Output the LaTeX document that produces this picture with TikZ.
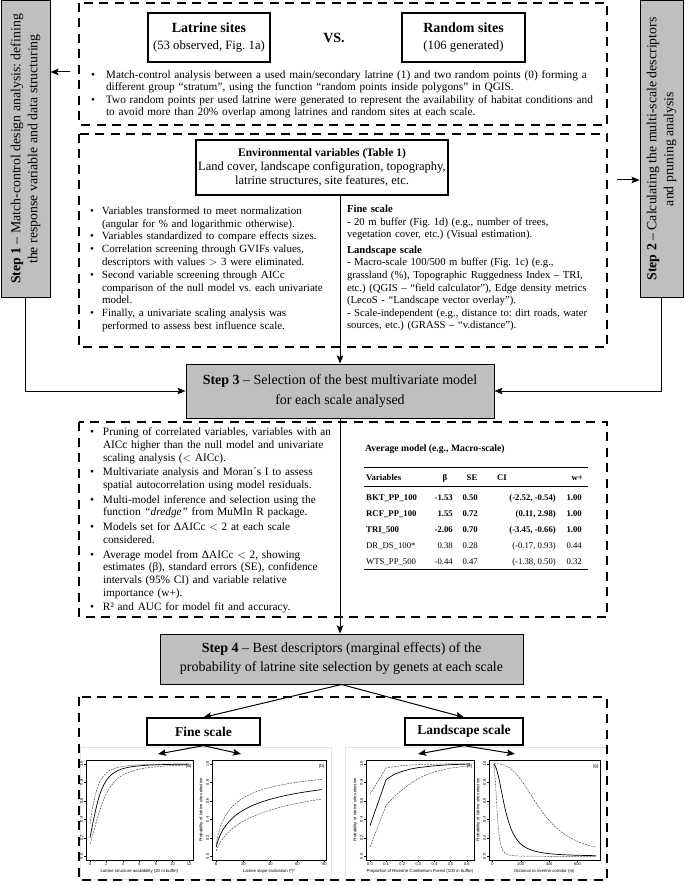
\documentclass[tikz,border=0pt]{standalone}
\usepackage{fontspec}
\setmainfont{Liberation Serif}
\newfontfamily\plotfont{Liberation Sans}
\usetikzlibrary{arrows.meta}
\frenchspacing
\definecolor{stepgray}{RGB}{191,191,191}
\definecolor{panelgray}{RGB}{228,228,228}
\newlength{\bulind}
\newcommand{\bitem}{\par\noindent\hangindent=\bulind\hangafter=1\makebox[\bulind][l]{\textbullet}}
\newcommand{\trow}[8]{%
  \node[tcell,#8,anchor=base west] (#1v) at (366,#2) {#3};
  \node[tcell,#8,anchor=base east] (#1b) at (453,#2) {#4};
  \node[tcell,#8,anchor=base east] (#1s) at (478,#2) {#5};
  \node[tcell,#8,anchor=base east] (#1c) at (556,#2) {#6};
  \node[tcell,#8,anchor=base east] (#1w) at (582,#2) {#7};}
% plot frame: #1 id, #2 xmin, #3 xmax, #4 xticks, #5 panel label
\newcommand{\pframe}[5]{%
  \draw[pbox] (#2,-0.04) rectangle (#3,1.04);
  \foreach \t/\l in {0/0.0,0.2/0.2,0.4/0.4,0.6/0.6,0.8/0.8,1/1.0}{
    \draw[ptk] (#2,\t) -- ++(-2.2pt,0);
    \node[ptick,rotate=90,anchor=south] at ([xshift=-2.8pt]#2,\t) {\l};}
  \foreach \t/\l in {#4}{
    \draw[ptk] (\t,-0.04) -- ++(0,-2.2pt);
    \node[ptick,anchor=north] at ([yshift=-2.8pt]\t,-0.04) {\l};}
  \node[plab,anchor=north east] (#1lab) at ([xshift=-1.5pt,yshift=-4pt]#3,1.04) {#5};}
\begin{document}
\begin{tikzpicture}[x=1pt,y=-1pt,
  dbox/.style={draw,line width=2pt,dash pattern=on 9pt off 6.5pt},
  sbox/.style={draw,line width=1.3pt,fill=white,inner sep=1pt,align=center},
  gbox/.style={draw,line width=1pt,fill=stepgray},
  arr/.style={line width=1pt,-{Stealth[length=8pt,width=6.5pt,inset=1.5pt]}},
  txt/.style={inner sep=0,outer sep=0,align=left},
  tcell/.style={inner sep=0},
  tb/.style={font=\bfseries\fontsize{8.7}{10}\selectfont},
  tn/.style={font=\fontsize{8.7}{10}\selectfont},
  pbox/.style={line width=0.45pt},
  ptk/.style={line width=0.35pt},
  ptick/.style={inner sep=0,font=\plotfont\fontsize{4}{4.5}\selectfont},
  plab/.style={inner sep=0,font=\plotfont\fontsize{4.5}{5}\selectfont},
  paxl/.style={inner sep=0,font=\plotfont\fontsize{4.3}{5}\selectfont},
  psol/.style={line width=0.7pt},
  pdsh/.style={line width=0.45pt,black!75,dash pattern=on 2pt off 1pt}
]
\useasboundingbox (0,0) rectangle (685,885);

% ---------------- Step bars
\node[gbox,minimum width=49pt,minimum height=296pt] (s1) at (25.5,149) {};
\node[rotate=90,align=center,inner sep=0,font=\fontsize{13.8}{17}\selectfont] (s1t) at (s1.center) {\textbf{Step 1} -- Match-control design analysis: defining\\the response variable and data structuring};
\node[gbox,minimum width=43pt,minimum height=296pt] (s2) at (661.5,149) {};
\node[rotate=90,align=center,inner sep=0,font=\fontsize{13.8}{17}\selectfont] (s2t) at (s2.center) {\textbf{Step 2} -- Calculating the multi-scale descriptors\\and pruning analysis};

% ---------------- Top box
\draw[dbox] (79,3) rectangle (607,125);
\node[sbox,minimum width=122pt,minimum height=49pt,font=\fontsize{12.7}{17}\selectfont] (lat) at (209,37.5) {{\fontsize{14}{17}\selectfont\textbf{Latrine sites}}\\(53 observed, Fig.~1a)};
\node[inner sep=0,font=\bfseries\fontsize{14}{16}\selectfont] (vs) at (334,38) {VS.};
\node[sbox,minimum width=123pt,minimum height=49pt,font=\fontsize{12.7}{17}\selectfont] (rnd) at (463.5,37.5) {{\fontsize{14}{17}\selectfont\textbf{Random sites}}\\(106 generated)};
\node[txt,anchor=north west,text width=515pt,font=\fontsize{11.3}{12.4}\selectfont] (topb) at (91,66) {\setlength{\bulind}{15pt}%
\bitem Match-control analysis between a used main/secondary latrine (1) and two random points (0) forming a\newline different group “stratum”, using the function “random points inside polygons” in QGIS.
\bitem Two random points per used latrine were generated to represent the availability of habitat conditions and\newline to avoid more than 20\% overlap among latrines and random sites at each scale.\par};
\coordinate (ta) at (70,72);
\draw[arr] (ta) -- (ta -| s1.east);

% ---------------- Environmental box
\draw[dbox] (79,134) rectangle (607,347);
\node[sbox,minimum width=252pt,minimum height=55pt,font=\fontsize{12.5}{13.6}\selectfont] (env) at (322,167.5) {{\fontsize{11.5}{13.6}\selectfont\textbf{Environmental variables (Table 1)}}\\Land cover, landscape configuration, topography,\\latrine structures, site features, etc.};
\node[txt,anchor=north west,text width=246pt,font=\fontsize{11}{12.8}\selectfont] (envl) at (90,201.5) {\setlength{\bulind}{12pt}%
\bitem Variables transformed to meet normalization\newline (angular for \% and logarithmic otherwise).
\bitem Variables standardized to compare effects sizes.
\bitem Correlation screening through GVIFs values,\newline descriptors with values $>$ 3 were eliminated.
\bitem Second variable screening through AICc\newline comparison of the null model vs. each univariate\newline model.
\bitem Finally, a univariate scaling analysis was\newline performed to assess best influence scale.\par};
\node[txt,anchor=north west,text width=255pt,font=\fontsize{10.7}{12.6}\selectfont] (envr) at (347,205) {\textbf{Fine scale}\newline
- 20 m buffer (Fig. 1d) (e.g., number of trees,\newline vegetation cover, etc.) (Visual estimation).\par\vspace{3pt}
\textbf{Landscape scale}\newline
- Macro-scale 100/500 m buffer (Fig. 1c) (e.g.,\newline grassland (\%), Topographic Ruggedness Index -- TRI,\newline etc.) (QGIS -- “field calculator”), Edge density metrics\newline (LecoS - “Landscape vector overlay”).\newline
- Scale-independent (e.g., distance to: dirt roads, water\newline sources, etc.) (GRASS -- “v.distance”).\par};
\coordinate (tb2) at (617,180);
\draw[arr] (tb2) -- (tb2 -| s2.west);

% ---------------- Step 3
\node[gbox,minimum width=308pt,minimum height=54pt,align=center,font=\fontsize{14}{20.5}\selectfont] (s3) at (340,391) {\textbf{Step 3} -- Selection of the best multivariate model\\for each scale analysed};
\draw[arr] (env.south -| s3.north) -- (s3.north);
\draw[arr] (s1.south) |- (s3.west);
\draw[arr] (s2.south) |- (s3.east);

% ---------------- Model box
\draw[dbox] (79,422) rectangle (607,617);
\node[txt,anchor=north west,text width=262pt,font=\fontsize{11.3}{12.7}\selectfont] (modl) at (90,421) {\setlength{\bulind}{13pt}\setlength{\parskip}{2pt}%
\bitem Pruning of correlated variables, variables with an\newline AICc higher than the null model and univariate\newline scaling analysis ($<$ AICc).
\bitem Multivariate analysis and Moran´s I to assess\newline spatial autocorrelation using model residuals.
\bitem Multi-model inference and selection using the\newline function \textit{“dredge”} from MuMIn R package.
\bitem Models set for ΔAICc $<$ 2 at each scale\newline considered.
\bitem Average model from ΔAICc $<$ 2, showing\newline estimates (β), standard errors (SE), confidence\newline intervals (95\% CI) and variable relative\newline importance (w+).
\bitem R² and AUC for model fit and accuracy.\par};

% table
\node[txt,anchor=base west,font=\bfseries\fontsize{9.7}{11}\selectfont] (ttl) at (365,451) {Average model (e.g., Macro-scale)};
\draw[line width=1pt] (364,467) -- (588,467);
\node[tcell,tb,anchor=base west] (hv) at (366,480) {Variables};
\node[tcell,tb,anchor=base] (hb) at (445,480) {β};
\node[tcell,tb,anchor=base] (hs) at (472,480) {SE};
\node[tcell,tb,anchor=base west] (hc) at (497,480) {CI};
\node[tcell,tb,anchor=base east] (hw) at (583,480) {w+};
\draw[line width=0.5pt] (364,486) -- (588,486);
\trow{ra}{500}{BKT\_PP\_100}{-1.53}{0.50}{(-2.52, -0.54)}{1.00}{tb}
\trow{rb}{516}{RCF\_PP\_100}{1.55}{0.72}{(0.11, 2.98)}{1.00}{tb}
\trow{rc}{532}{TRI\_500}{-2.06}{0.70}{(-3.45, -0.66)}{1.00}{tb}
\trow{rd}{548}{DR\_DS\_100*}{0.38}{0.28}{(-0.17, 0.93)}{0.44}{tn}
\trow{re}{564}{WTS\_PP\_500}{-0.44}{0.47}{(-1.38, 0.50)}{0.32}{tn}
\draw[line width=1pt] (364,569) -- (588,569);

% ---------------- Step 4
\node[gbox,minimum width=363pt,minimum height=50pt,align=center,font=\fontsize{14}{19}\selectfont] (s4) at (341.5,659) {\textbf{Step 4} -- Best descriptors (marginal effects) of the\\probability of latrine site selection by genets at each scale};
\draw[arr] (s3.south) -- (s4.north -| s3.south);

% ---------------- Bottom box
\draw[panelgray,line width=0.6pt] (80,747) rectangle (331,879);
\draw[panelgray,line width=0.6pt] (345,747) rectangle (606,879);
\draw[dbox] (79,697) rectangle (607,880);
\node[sbox,minimum width=113pt,minimum height=27pt,font=\bfseries\fontsize{13.5}{15}\selectfont] (fs) at (203.5,731.5) {Fine scale};
\node[sbox,minimum width=118pt,minimum height=27pt,font=\bfseries\fontsize{13.5}{15}\selectfont] (ls) at (464,731.5) {Landscape scale};
\draw[arr] (s4.south) -- (fs.north);
\draw[arr] (s4.south) -- (ls.north);
\coordinate (fa) at (158,754);
\coordinate (fb) at (241,754);
\coordinate (la) at (418,754);
\coordinate (lb) at (515,754);
\draw[arr] (fs.south) -- (fa);
\draw[arr] (fs.south) -- (fb);
\draw[arr] (ls.south) -- (la);
\draw[arr] (ls.south) -- (lb);

% plot a
\begin{scope}[xshift=89.96pt,yshift=-856.3pt,x={(8.256pt,0pt)},y={(0pt,92.59pt)}]
\pframe{pa}{-0.48}{12.48}{0/0,2/2,4/4,6/6,8/8,10/10,12/12}{(a)}
\node[paxl,anchor=north] (pax) at ([yshift=-9.5pt]6,-0.04) {Latrine structure availability (20 m buffer)};
\draw[pdsh] plot[domain=0:12,samples=70,smooth] (\x,{1/(1+exp(0.62-2.57*ln(\x+1)))});
\draw[psol] plot[domain=0:12,samples=70,smooth] (\x,{1/(1+exp(1.39-2.65*ln(\x+1)))});
\draw[pdsh] plot[domain=0:12,samples=70,smooth] (\x,{1/(1+exp(1.9-2.41*ln(\x+1)))});
\end{scope}
% plot b
\begin{scope}[xshift=216.22pt,yshift=-856.3pt,x={(1.3533pt,0pt)},y={(0pt,92.59pt)}]
\pframe{pb}{-3.12}{81.12}{0/0,20/20,40/40,60/60,80/80}{(b)}
\node[paxl,anchor=north] (pbx) at ([yshift=-9.5pt]39,-0.04) {Latrine slope inclination (º)*};
\node[paxl,rotate=90,anchor=south] (pby) at ([xshift=-8.5pt]-3.12,0.5) {Probability of latrine site selection};
\draw[pdsh] plot[domain=0:78,samples=70,smooth] (\x,{1/(1+exp(1.9-0.8*ln(\x+1)))});
\draw[psol] plot[domain=0:78,samples=70,smooth] (\x,{1/(1+exp(2.2-0.72*ln(\x+1)))});
\draw[pdsh] plot[domain=0:78,samples=70,smooth] (\x,{1/(1+exp(2.75-0.74*ln(\x+1)))});
\end{scope}
% plot c
\begin{scope}[xshift=370pt,yshift=-856.3pt,x={(161.29pt,0pt)},y={(0pt,92.59pt)}]
\pframe{pc}{-0.0248}{0.6448}{0/0.0,0.1/0.1,0.2/0.2,0.3/0.3,0.4/0.4,0.5/0.5,0.6/0.6}{(e)}
\node[paxl,anchor=north] (pcx) at ([yshift=-9.5pt]0.31,-0.04) {Proportion of Riverine Combretum Forest (100 m buffer)};
\node[paxl,rotate=90,anchor=south] (pcy) at ([xshift=-8.5pt]-0.0248,0.5) {Probability of latrine site selection};
\draw[pdsh] (0,0.67) -- (0.1,0.955) -- (0.2,0.98) -- (0.3,0.99) -- (0.45,0.997) -- (0.62,1.0);
\draw[psol] (0,0.33) -- (0.1,0.83) -- (0.15,0.885) -- (0.2,0.918) -- (0.25,0.942) -- (0.3,0.958) -- (0.4,0.978) -- (0.5,0.99) -- (0.62,0.997);
\draw[pdsh] (0,0.1) -- (0.1,0.55) -- (0.15,0.645) -- (0.2,0.72) -- (0.25,0.785) -- (0.3,0.84) -- (0.35,0.88) -- (0.4,0.912) -- (0.5,0.952) -- (0.62,0.98);
\end{scope}
% plot d
\begin{scope}[xshift=492.4pt,yshift=-856.3pt,x={(0.14176pt,0pt)},y={(0pt,92.59pt)}]
\pframe{pd}{-24}{759}{0/0,200/200,400/400,600/600}{(g)}
\node[paxl,anchor=north] (pdx) at ([yshift=-9.5pt]367,-0.04) {Distance to riverine corridor (m)};
\node[paxl,rotate=90,anchor=south] (pdy) at ([xshift=-8.5pt]-24,0.5) {Probability of latrine site selection};
\draw[pdsh] plot[domain=10:730,samples=90,smooth] (\x,{1/(1+exp(min(8,2.93*ln(\x)-17.1)))});
\draw[psol] plot[domain=10:730,samples=90,smooth] (\x,{1/(1+exp(min(8,2.39*ln(\x)-10.8)))});
\draw[pdsh] plot[domain=10:730,samples=120,smooth] (\x,{1/(1+exp(min(8,3.29*ln(\x)-11.48)))});
\end{scope}
\end{tikzpicture}
\end{document}
